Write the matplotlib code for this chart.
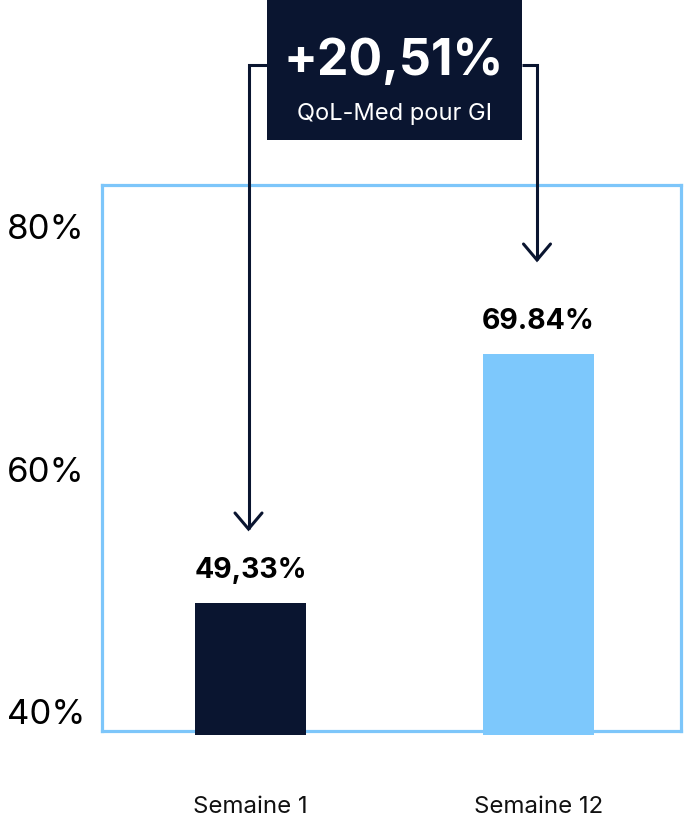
import matplotlib
matplotlib.use("Agg")
import matplotlib.pyplot as plt
from matplotlib.patches import Rectangle
from matplotlib.lines import Line2D
import matplotlib.transforms as mtransforms

plt.rcParams['font.family'] = ['Inter', 'DejaVu Sans']

# ---- data ----
categories = ["Semaine 1", "Semaine 12"]
values = [49.33, 69.84]
value_labels = ["49,33%", "69.84%"]
bar_colors = ["#0A1530", "#7DC8FC"]
yticks = [40, 60, 80]
ytick_labels = ["40%", "60%", "80%"]
headline = "+20,51%"
subheadline = "QoL-Med pour GI"

NAVY = "#0A1530"
FRAME = "#7DC6FA"
W, H = 684, 825

fig = plt.figure(figsize=(W / 100, H / 100), dpi=100)

def fx(x):
    return x / W

def fy(y):
    return 1 - y / H

# axes box in pixels
L, R, T, B = 102, 681, 184.7, 731
ax = fig.add_axes([fx(L), fy(B), fx(R) - fx(L), fy(T) - fy(B)])
ax.set_xlim(-0.5156, 1.4948)
ax.set_ylim(38.79, 83.79)
for s in ax.spines.values():
    s.set_color(FRAME)
    s.set_linewidth(2.3)
ax.set_xticks([])
ax.set_yticks([])

xs = list(range(len(categories)))
bar_bottom = 38.46
bars = ax.bar(xs, [v - bar_bottom for v in values], bottom=bar_bottom,
              width=0.3854, color=bar_colors, zorder=5, clip_on=False)

# value labels above bars
for x, v, lab in zip(xs, values, value_labels):
    off = mtransforms.offset_copy(ax.transData, fig=fig, x=0, y=25, units='dots')
    ax.text(x, v, lab, transform=off, ha='center', va='baseline',
            fontsize=20.5, fontweight='bold', color='#000000')

# y tick labels (manual, left aligned)
blend = mtransforms.blended_transform_factory(fig.transFigure, ax.transData)
for t, lab in zip(yticks, ytick_labels):
    off = mtransforms.offset_copy(blend, fig=fig, x=0, y=-8, units='dots')
    ax.text(fx(7), t, lab, transform=off, ha='left', va='baseline',
            fontsize=25, color='#000000', clip_on=False)

# category labels
blend_x = mtransforms.blended_transform_factory(ax.transData, fig.transFigure)
for x, c in zip(xs, categories):
    ax.text(x, fy(813), c, transform=blend_x, ha='center', va='baseline',
            fontsize=17.3, color='#111111', clip_on=False)

# headline box
fig.add_artist(Rectangle((fx(266.7), fy(140)), fx(522) - fx(266.7), fy(0) - fy(140),
                         transform=fig.transFigure, facecolor=NAVY, edgecolor='none', zorder=3))
fig.text(fx(394), fy(75), headline, ha='center', va='baseline', fontsize=36,
         fontweight='bold', color='white', zorder=4)
fig.text(fx(394.5), fy(120), subheadline, ha='center', va='baseline', fontsize=17,
         color='white', zorder=4)

# connector arrows
lw = 2.2
def fline(xs_, ys_):
    fig.add_artist(Line2D([fx(v) for v in xs_], [fy(v) for v in ys_], transform=fig.transFigure,
                          color=NAVY, lw=lw, solid_joinstyle='miter', solid_capstyle='butt', zorder=2))

def chevron(tx, ty):
    fig.add_artist(Line2D([fx(tx - 13.5), fx(tx), fx(tx + 13.5)],
                          [fy(ty - 16), fy(ty), fy(ty - 16)], transform=fig.transFigure,
                          color=NAVY, lw=lw, solid_joinstyle='miter', solid_capstyle='round', zorder=2))

fline([267, 248.5, 248.5], [65, 65, 529])
chevron(248.5, 529)
fline([522, 537, 537], [65, 65, 260])
chevron(537, 260)

fig.savefig("out.png", dpi=100)
